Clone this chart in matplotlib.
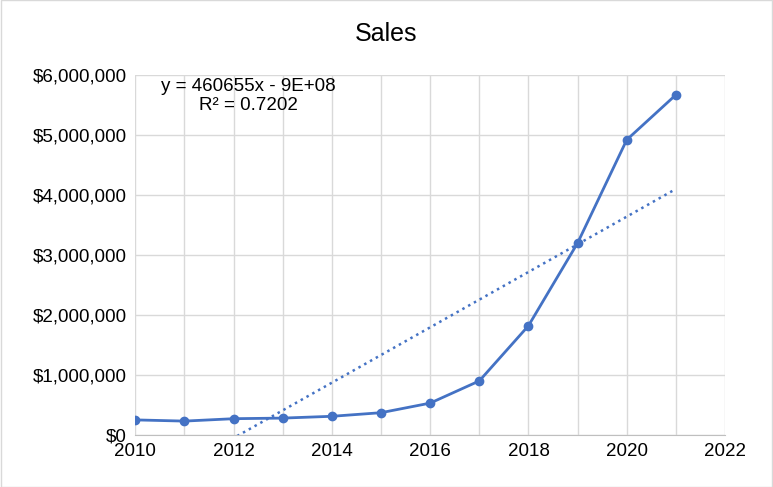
import numpy as np
import matplotlib.pyplot as plt
from matplotlib.ticker import FuncFormatter
from matplotlib.patches import Rectangle

years = [2010, 2011, 2012, 2013, 2014, 2015, 2016, 2017, 2018, 2019, 2020, 2021]
sales = [250000, 230000, 270000, 280000, 310000, 370000, 530000, 900000,
         1820000, 3200000, 4920000, 5670000]

plt.rcParams['font.family'] = ['Liberation Sans', 'DejaVu Sans']
fig = plt.figure(figsize=(7.73, 4.87), dpi=100)
ax = fig.add_axes([0.175, 0.107, 0.763, 0.739])
fig.patches.append(Rectangle((0.001, 0.001), 0.998, 0.998, transform=fig.transFigure,
                             fill=False, edgecolor='#d9d9d9', linewidth=1))

blue = '#4472C4'
ax.plot(years, sales, color=blue, linewidth=2, marker='o', markersize=6, zorder=3)

slope, icpt = np.polyfit(years, sales, 1)
tx = np.linspace(2010, 2021, 200)
ax.plot(tx, slope * tx + icpt, color=blue, linestyle=':', linewidth=1.8, zorder=2)

ax.set_xlim(2010, 2022)
ax.set_ylim(0, 6000000)
ax.set_xticks(range(2010, 2023, 2))
ax.set_yticks(range(0, 6000001, 1000000))
ax.yaxis.set_major_formatter(FuncFormatter(lambda v, p: "${:,.0f}".format(v)))
ax.set_xticks(range(2010, 2023), minor=True)
ax.grid(True, which='both', color='#d9d9d9', linewidth=1)
ax.tick_params(which='both', length=0, labelsize=13.5, colors='black')
ax.tick_params(axis='x', pad=6)
ax.tick_params(axis='y', pad=6)
for s in ['top', 'right', 'left']:
    ax.spines[s].set_visible(False)
ax.spines['bottom'].set_color('#bfbfbf')
ax.set_axisbelow(True)

fig.text(0.5, 0.93, 'Sales', fontsize=18, ha='center', va='center')
ax.text(2012.3, 5650000, 'y = 460655x - 9E+08\nR² = 0.7202', fontsize=13.5,
        ha='center', va='center', linespacing=1.15)

fig.savefig('out.png', dpi=100)
